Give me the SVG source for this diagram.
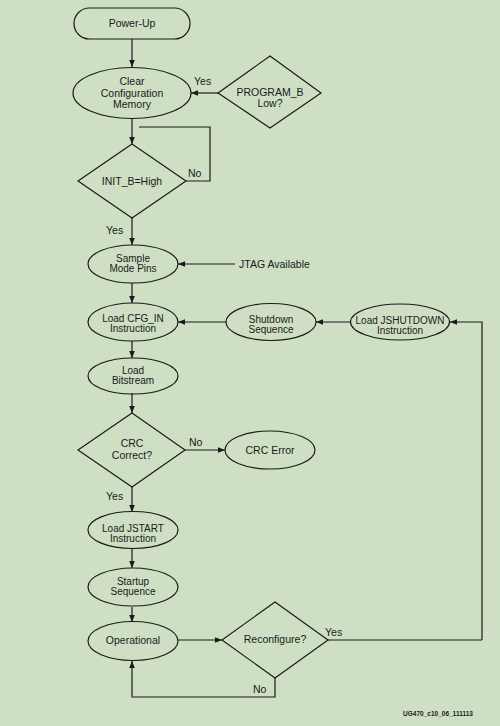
<svg xmlns="http://www.w3.org/2000/svg" width="500" height="726" viewBox="0 0 500 726">
<defs>
<marker id="ah" viewBox="0 0 10 10" refX="10" refY="5" markerWidth="7" markerHeight="7" markerUnits="userSpaceOnUse" orient="auto">
<path d="M0,1 L10,5 L0,9 z" fill="#1a1a1a"/>
</marker>
<style>
.s{fill:none;stroke:#1a1a1a;stroke-width:1.2}
.c{fill:none;stroke:#1a1a1a;stroke-width:1.2;marker-end:url(#ah)}
.l{fill:none;stroke:#1a1a1a;stroke-width:1.2}
text{font-family:"Liberation Sans",Arial,sans-serif;font-size:10.5px;fill:#1a1a1a;text-anchor:middle}
.t{font-size:10px}
.lab{text-anchor:start}
</style>
</defs>
<rect width="500" height="726" fill="#cedfc4"/>

<g id="connectors">
<path class="c" d="M132,39 V67"/>
<path class="c" d="M218,93 H191"/>
<path class="c" d="M132,118 V144"/>
<path class="l" d="M186,181 H210 V127 H139"/>
<path class="c" d="M132,218 V245"/>
<path class="c" d="M235,264 H178"/>
<path class="c" d="M132,283 V303"/>
<path class="c" d="M226,322 H178"/>
<path class="c" d="M351,322 H316"/>
<path class="c" d="M482,640 V322 H450"/>
<path class="c" d="M132,341 V358"/>
<path class="c" d="M132,393 V413"/>
<path class="c" d="M185,450 H225"/>
<path class="c" d="M132,487 V512"/>
<path class="c" d="M132,549 V568"/>
<path class="c" d="M132,607 V622"/>
<path class="c" d="M178,640 H222"/>
<path class="l" d="M328,640 H482"/>
<path class="c" d="M275,678 V697 H132 V661"/>
<text class="lab" x="194" y="85">Yes</text>
<text class="lab" x="188" y="177">No</text>
<text class="lab" x="106" y="234">Yes</text>
<text class="lab" x="239" y="268">JTAG Available</text>
<text class="lab" x="189" y="446">No</text>
<text class="lab" x="106" y="500">Yes</text>
<text class="lab" x="325" y="636">Yes</text>
<text class="lab" x="253" y="693">No</text>
</g>

<g id="power-up">
<rect class="s" x="74" y="8" width="116" height="31" rx="15.5"/>
<text x="132" y="27">Power-Up</text>
</g>
<g id="clear-config">
<ellipse class="s" cx="132" cy="93" rx="59" ry="25.5"/>
<text x="132" y="85">Clear</text>
<text x="132" y="97">Configuration</text>
<text x="132" y="108">Memory</text>
</g>
<g id="program-b">
<polygon class="s" points="270,56 321,93 270,128 218,93"/>
<text x="270" y="96">PROGRAM_B</text>
<text x="270" y="107">Low?</text>
</g>
<g id="init-b">
<polygon class="s" points="132,144 186,181 132,218 78,181"/>
<text x="132" y="185">INIT_B=High</text>
</g>
<g id="sample-mode">
<ellipse class="s" cx="133" cy="264" rx="45" ry="19"/>
<text class="t" x="133" y="262">Sample</text>
<text class="t" x="133" y="272">Mode Pins</text>
</g>
<g id="load-cfg-in">
<ellipse class="s" cx="133" cy="322" rx="45" ry="19"/>
<text class="t" x="133" y="321.5">Load CFG_IN</text>
<text class="t" x="133" y="331.5">Instruction</text>
</g>
<g id="shutdown-seq">
<ellipse class="s" cx="271" cy="322" rx="45" ry="18.5"/>
<text class="t" x="271" y="322.5">Shutdown</text>
<text class="t" x="271" y="332.5">Sequence</text>
</g>
<g id="load-jshutdown">
<ellipse class="s" cx="400" cy="322" rx="49.5" ry="18"/>
<text class="t" x="400" y="323.5">Load JSHUTDOWN</text>
<text class="t" x="400" y="333.5">Instruction</text>
</g>
<g id="load-bitstream">
<ellipse class="s" cx="133" cy="376" rx="45" ry="18"/>
<text class="t" x="133" y="374">Load</text>
<text class="t" x="133" y="384">Bitstream</text>
</g>
<g id="crc-correct">
<polygon class="s" points="132,413 185,450 132,487 78,450"/>
<text x="132" y="447">CRC</text>
<text x="132" y="459">Correct?</text>
</g>
<g id="crc-error">
<ellipse class="s" cx="270" cy="450" rx="45" ry="19"/>
<text x="270" y="454">CRC Error</text>
</g>
<g id="load-jstart">
<ellipse class="s" cx="133" cy="530" rx="45" ry="18.5"/>
<text class="t" x="133" y="531.5">Load JSTART</text>
<text class="t" x="133" y="541.5">Instruction</text>
</g>
<g id="startup-seq">
<ellipse class="s" cx="133" cy="587" rx="45" ry="19"/>
<text class="t" x="133" y="585">Startup</text>
<text class="t" x="133" y="595">Sequence</text>
</g>
<g id="operational">
<ellipse class="s" cx="133" cy="641" rx="45" ry="19.5"/>
<text x="133" y="644">Operational</text>
</g>
<g id="reconfigure">
<polygon class="s" points="275,602 328,640 275,678 222,640"/>
<text x="275" y="643">Reconfigure?</text>
</g>
<text x="438" y="716" style="font-size:6.5px;font-weight:bold">UG470_c10_06_111113</text>
</svg>
